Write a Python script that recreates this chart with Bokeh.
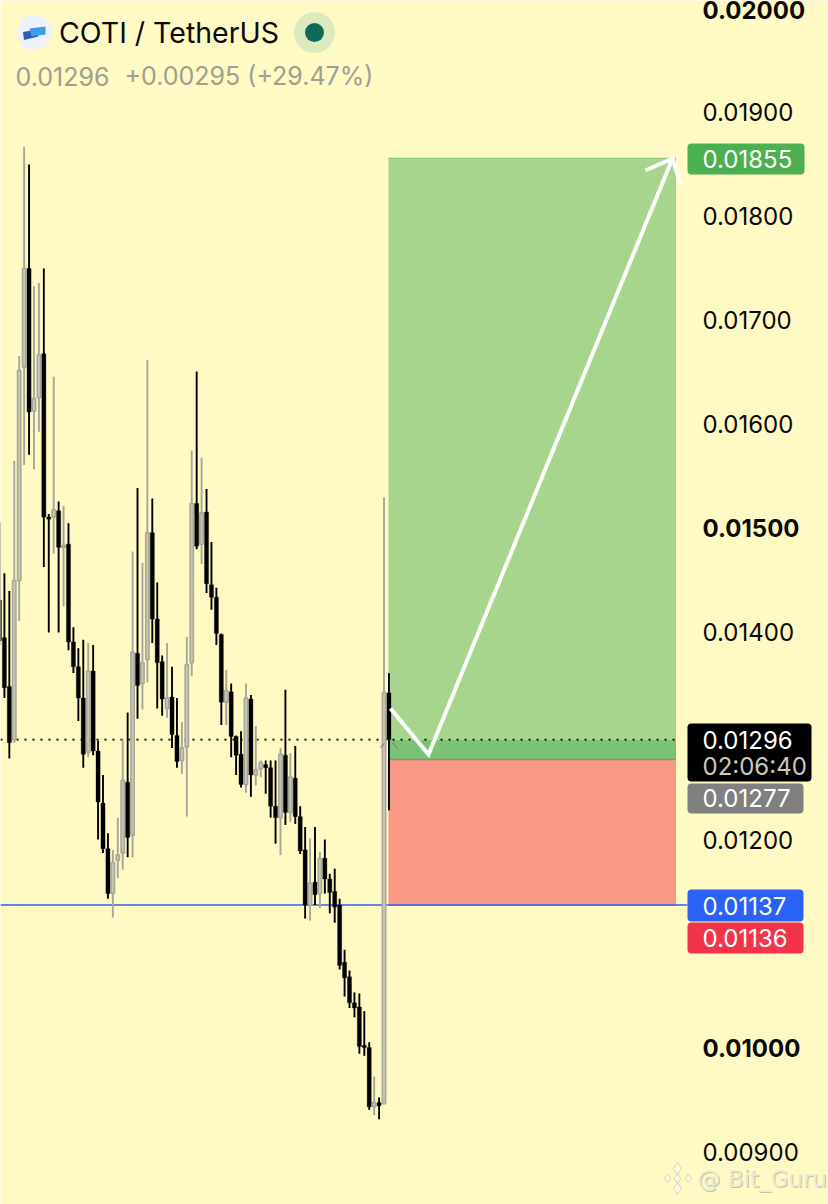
from bokeh.plotting import figure
from bokeh.models import LinearAxis, FixedTicker
from bokeh.core.properties import value
from bokeh.embed import file_html
from bokeh.resources import INLINE

# ---------- data ----------
highs = [0.01505,0.01456,0.01439,0.01564,0.01665,0.01866,0.01849,0.01732,0.01735,0.01749,
         0.01513,0.01645,0.01525,0.01521,0.01504,0.01404,0.01384,0.01392,0.01389,0.01387,
         0.01295,0.01262,0.01206,0.01190,0.01221,0.01297,0.01322,0.01477,0.01538,0.01466,
         0.01661,0.01528,0.01447,0.01377,0.01389,0.01366,0.01336,0.01313,0.01395,0.01574,
         0.01650,0.01567,0.01537,0.01486,0.01442,0.01398,0.01363,0.01350,0.01300,0.01304,
         0.01350,0.01339,0.01309,0.01276,0.01276,0.01276,0.01276,0.01288,0.01344,0.01283,
         0.01290,0.01232,0.01212,0.01201,0.01212,0.01188,0.01200,0.01167,0.01172,0.01143,
         0.01094,0.01074,0.01053,0.01052,0.01035,0.01005,0.00972,0.00952,0.01529,0.01360]
body_tops = [0.01430,0.01394,0.01347,0.01449,0.01651,0.01749,0.01749,0.01624,0.01666,0.01667,
         0.01510,0.01517,0.01516,0.01483,0.01484,0.01390,0.01366,0.01336,0.01362,0.01362,
         0.01285,0.01235,0.01191,0.01178,0.01185,0.01257,0.01255,0.01380,0.01379,0.01370,
         0.01495,0.01495,0.01412,0.01371,0.01336,0.01337,0.01300,0.01288,0.01368,0.01523,
         0.01523,0.01514,0.01515,0.01445,0.01433,0.01397,0.01343,0.01342,0.01299,0.01282,
         0.01336,0.01335,0.01267,0.01274,0.01272,0.01269,0.01232,0.01282,0.01281,0.01260,
         0.01259,0.01222,0.01190,0.01158,0.01159,0.01182,0.01182,0.01162,0.01150,0.01137,
         0.01082,0.01068,0.01043,0.01039,0.01002,0.01000,0.00947,0.00947,0.01341,0.01341]
body_bottoms = [0.01391,0.01346,0.01293,0.01296,0.01449,0.01654,0.01611,0.01612,0.01625,0.01510,
         0.01508,0.01510,0.01481,0.01481,0.01390,0.01366,0.01336,0.01282,0.01284,0.01285,
         0.01236,0.01191,0.01148,0.01148,0.01180,0.01187,0.01202,0.01204,0.01348,0.01350,
         0.01373,0.01412,0.01370,0.01335,0.01326,0.01301,0.01275,0.01276,0.01289,0.01370,
         0.01482,0.01484,0.01446,0.01433,0.01398,0.01332,0.01332,0.01299,0.01281,0.01253,
         0.01253,0.01262,0.01262,0.01268,0.01269,0.01232,0.01221,0.01221,0.01226,0.01226,
         0.01222,0.01189,0.01137,0.01137,0.01147,0.01148,0.01162,0.01149,0.01135,0.01079,
         0.01067,0.01043,0.01038,0.01001,0.01000,0.00943,0.00943,0.00944,0.00946,0.01296]
lows = [0.01387,0.01336,0.01278,0.01293,0.01410,0.01560,0.01570,0.01556,0.01592,0.01462,
        0.01399,0.01475,0.01399,0.01424,0.01382,0.01360,0.01314,0.01269,0.01279,0.01281,
        0.01200,0.01187,0.01143,0.01125,0.01163,0.01171,0.01183,0.01183,0.01316,0.01325,
        0.01351,0.01389,0.01326,0.01319,0.01317,0.01288,0.01269,0.01263,0.01222,0.01357,
        0.01479,0.01465,0.01437,0.01421,0.01387,0.01310,0.01310,0.01279,0.01262,0.01250,
        0.01245,0.01241,0.01252,0.01260,0.01244,0.01221,0.01196,0.01185,0.01214,0.01217,
        0.01215,0.01186,0.01124,0.01122,0.01137,0.01134,0.01148,0.01129,0.01120,0.01075,
        0.01049,0.01038,0.01029,0.00994,0.00992,0.00940,0.00935,0.00931,0.00946,0.01228]
# 1 = rising (grey hollow candle), 0 = falling (black candle)
rising = [0,0,0,1,1,1,0,1,1,0, 0,1,0,1,0,0,0,0,1,0, 0,0,0,1,1,1,0,1,0,1,
          1,0,0,0,1,0,0,1,1,1, 0,1,0,0,0,0,1,0,0,0, 1,0,1,1,0,0,0,1,0,1,
          0,0,0,1,0,1,0,0,0,0, 0,0,0,0,0,0,1,0,1,0]
first_index = -1

regular_ticks = [0.009, 0.012, 0.014, 0.016, 0.017, 0.018, 0.019]
bold_ticks = [0.010, 0.015, 0.020]

target = 0.01855
current = 0.01296
entry = 0.01277
blue_level = 0.01137
stop = 0.01136

# ---------- layout helpers: reference pixel -> chart coordinates ----------
def X(px):
    return (px - 3.9) / 4.93

def Y(py):
    return 0.01 + (1047 - py) / 104000

BG = "#FFF9C4"
FONT = value("Inter")

p = figure(width=828, height=1204, output_backend="svg", toolbar_location=None,
           x_range=(X(0), X(828)), y_range=(Y(1204), Y(0)),
           x_axis_location=None, y_axis_location=None, min_border=0,
           outline_line_color=None, background_fill_color=BG, border_fill_color=BG)
p.grid.visible = False

# ---------- position zones ----------
p.quad(left=[X(388)], right=[X(675.5)], top=[target], bottom=[current], fill_color="#A8D58E", line_color=None)
p.quad(left=[X(388)], right=[X(675.5)], top=[current], bottom=[entry], fill_color="#7BC374", line_color=None)
p.quad(left=[X(388)], right=[X(675.5)], top=[entry], bottom=[stop], fill_color="#FA9886", line_color=None)
p.segment(x0=[X(388)], x1=[X(675.5)], y0=[target], y1=[target], line_color="#8CC87C", line_width=1.2)
p.segment(x0=[X(388)], x1=[X(675.5)], y0=[entry], y1=[entry], line_color="#8C8F80", line_width=1.5)

# ---------- price lines ----------
p.segment(x0=[X(0)], x1=[X(687)], y0=[blue_level], y1=[blue_level], line_color="#2B63F2", line_width=1.6)
p.segment(x0=[X(0)], x1=[X(680)], y0=[current], y1=[current], line_color="#000000", line_width=1.6, line_dash="2 6")

# ---------- candles ----------
xs = [first_index + i for i in range(len(highs))]
GREY = "#A6A69B"
grey_idx = [i for i, r in enumerate(rising) if r]
black_idx = [i for i, r in enumerate(rising) if not r]
for idx, col, w in ((grey_idx, GREY, 1.9), (black_idx, "#000000", 1.9)):
    p.segment(x0=[xs[i] for i in idx], x1=[xs[i] for i in idx],
              y0=[lows[i] for i in idx], y1=[highs[i] for i in idx],
              line_color=col, line_width=w)
p.vbar(x=[xs[i] for i in grey_idx], width=0.68,
       top=[body_tops[i] for i in grey_idx], bottom=[body_bottoms[i] for i in grey_idx],
       fill_color="#C8C7B4", line_color=GREY, line_width=1.5)
p.vbar(x=[xs[i] for i in black_idx], width=0.84,
       top=[body_tops[i] for i in black_idx], bottom=[body_bottoms[i] for i in black_idx],
       fill_color="#000000", line_color="#000000", line_width=0.3)

# ---------- arrow ----------
p.line([X(390), X(428), X(672)], [Y(708), Y(754), Y(158)], line_color="#FFFFFF", line_width=4, line_join="miter")
p.line([X(645), X(672), X(680)], [Y(170), Y(158), Y(184)], line_color="#FFFFFF", line_width=4, line_join="miter")
p.segment(x0=[X(380), X(392)], x1=[X(384), X(397)], y0=[Y(747), Y(742)], y1=[Y(743), Y(748)],
          line_color="#8E8E84", line_width=1.4)

# ---------- price axes ----------
for ticks, style in ((regular_ticks, "normal"), (bold_ticks, "bold")):
    ax = LinearAxis(ticker=FixedTicker(ticks=ticks), fixed_location=X(702))
    ax.axis_line_color = None
    ax.major_tick_line_color = None
    ax.minor_tick_line_color = None
    ax.major_tick_out = 0
    ax.major_tick_in = 0
    ax.major_label_standoff = 0
    ax.major_label_text_font = "Inter"
    ax.major_label_text_font_size = "24px"
    ax.major_label_text_font_style = style
    ax.major_label_text_color = "#0A0A0A"
    ax.major_label_overrides = {t: f"{t:.5f}" for t in ticks}
    p.add_layout(ax, "right")

# ---------- price tags ----------
tags = [("0.01855", 143, 174, 804, "#4CAF50", 158),
        ("0.01277", 783, 813, 803, "#808080", 797),
        ("0.01296", 723, 781, 811, "#000000", 739),
        ("0.01137", 889, 921, 803, "#2A62F6", 905),
        ("0.01136", 922, 953, 803, "#F2344A", 937)]
for label, t, b, r, col, mid in tags:
    p.quad(left=[X(687)], right=[X(r)], top=[Y(t)], bottom=[Y(b)], fill_color=col, line_color=None, border_radius=4)
    p.text(x=[X(702)], y=[Y(mid)], text=[label], text_color="#FFFFFF", text_font=FONT, text_font_size="24px",
           text_align="left", text_baseline="middle")
p.text(x=[X(702)], y=[Y(766)], text=["02:06:40"], text_color="#C9C9BF", text_font=FONT, text_font_size="24px",
       text_align="left", text_baseline="middle")

# ---------- header ----------
p.scatter(x=[X(34)], y=[Y(32)], size=35, marker="circle", fill_color="#EDF1FA", line_color=None)
p.patch([X(22.5), X(37), X(38), X(23.5)], [Y(31.5), Y(29), Y(36), Y(39.5)], fill_color="#2C5BC0", line_color=None)
p.patch([X(29), X(45), X(45), X(31)], [Y(28), Y(26), Y(34), Y(36)], fill_color="#3F9BE8", line_color=None)
p.scatter(x=[X(314)], y=[Y(32)], size=41, marker="circle", fill_color="#DCEBBF", line_color=None)
p.scatter(x=[X(314)], y=[Y(32)], size=19, marker="circle", fill_color="#0F6B55", line_color=None)
p.text(x=[X(58.5)], y=[Y(32)], text=["COTI / TetherUS"], text_color="#0A0A0A", text_font=FONT, text_font_size="28.5px",
       text_align="left", text_baseline="middle")
p.text(x=[X(15)], y=[Y(75.5)], text=["0.01296"], text_color="#9E9E94", text_font=FONT, text_font_size="25px",
       text_align="left", text_baseline="middle")
p.text(x=[X(124)], y=[Y(75.5)], text=["+0.00295 (+29.47%)"], text_color="#9E9E94", text_font=FONT, text_font_size="25px",
       text_align="left", text_baseline="middle")

# ---------- watermark ----------
p.scatter(x=[X(677), X(667), X(688), X(677), X(677)], y=[Y(1178), Y(1178), Y(1178), Y(1168), Y(1188)],
          size=[10, 9, 9, 12, 12], marker="diamond", fill_color="#FBF9E8", line_color="#CFCCA8", line_width=0.8)
p.text(x=[X(698)], y=[Y(1179)], text=["@ Bit_Guru"], text_color="#C4C2A4", text_font=value("DejaVu Sans"),
       text_font_size="23px", text_align="left", text_baseline="middle")
p.text(x=[X(697)], y=[Y(1178)], text=["@ Bit_Guru"], text_color="#ECEAD4", text_font=value("DejaVu Sans"),
       text_font_size="23px", text_align="left", text_baseline="middle")

PAGE = """<!DOCTYPE html>
<html><head><meta charset="utf-8"><title>COTI / TetherUS</title>
{{ bokeh_css }}{{ bokeh_js }}
<style>html,body{margin:0;padding:0;background:#FFF9C4;overflow:hidden}</style>
</head><body>{{ plot_div }}{{ plot_script }}</body></html>"""

open("out.html", "w").write(file_html(p, INLINE, template=PAGE))
